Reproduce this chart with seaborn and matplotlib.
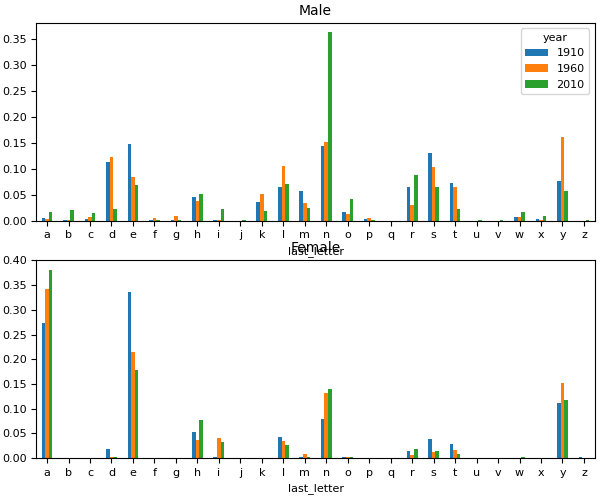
import pandas as pd
import seaborn as sns
from matplotlib import pyplot as plt

letters = list("abcdefghijklmnopqrstuvwxyz")
years = ["1910", "1960", "2010"]

male_1910 = [0.006, 0.002, 0.004, 0.113, 0.148, 0.002, 0.002, 0.046, 0.002, 0.0, 0.037, 0.065, 0.058,
             0.144, 0.017, 0.004, 0.0, 0.065, 0.131, 0.073, 0.0, 0.0, 0.008, 0.004, 0.077, 0.0]
male_1960 = [0.004, 0.002, 0.008, 0.123, 0.085, 0.006, 0.010, 0.038, 0.002, 0.0, 0.051, 0.106, 0.035,
             0.152, 0.013, 0.006, 0.0, 0.031, 0.104, 0.065, 0.0, 0.0, 0.008, 0.002, 0.162, 0.0]
male_2010 = [0.016, 0.021, 0.014, 0.023, 0.069, 0.002, 0.002, 0.052, 0.023, 0.002, 0.019, 0.071, 0.025,
             0.363, 0.042, 0.002, 0.0, 0.088, 0.065, 0.023, 0.002, 0.002, 0.017, 0.010, 0.058, 0.002]

female_1910 = [0.274, 0.0, 0.0, 0.019, 0.337, 0.0, 0.0, 0.053, 0.002, 0.0, 0.0, 0.043, 0.002,
               0.080, 0.002, 0.0, 0.0, 0.015, 0.039, 0.029, 0.0, 0.0, 0.0, 0.0, 0.112, 0.002]
female_1960 = [0.343, 0.0, 0.0, 0.002, 0.215, 0.0, 0.0, 0.037, 0.041, 0.0, 0.0, 0.035, 0.009,
               0.132, 0.002, 0.0, 0.0, 0.007, 0.013, 0.017, 0.0, 0.0, 0.0, 0.0, 0.152, 0.0]
female_2010 = [0.381, 0.0, 0.0, 0.002, 0.179, 0.0, 0.0, 0.078, 0.033, 0.0, 0.0, 0.027, 0.002,
               0.140, 0.002, 0.0, 0.0, 0.019, 0.015, 0.009, 0.0, 0.0, 0.002, 0.0, 0.118, 0.0]


def to_long(series_by_year):
    frames = []
    for year, vals in zip(years, series_by_year):
        frames.append(pd.DataFrame({"last_letter": letters, "year": year, "prop": vals}))
    return pd.concat(frames, ignore_index=True)


pdf_male = to_long([male_1910, male_1960, male_2010])
pdf_female = to_long([female_1910, female_1960, female_2010])
palette = ["#1f77b4", "#ff7f0e", "#2ca02c"]

f, axes = plt.subplots(2, 1, figsize=(6.05, 4.97), dpi=100)

ax = axes[0]
sns.barplot(data=pdf_male, x="last_letter", y="prop", hue="year", palette=palette,
            width=0.5, saturation=1, ax=ax)
ax.set_title("Male", fontsize=10)
ax.set_ylabel("")
ax.set_xlim(-0.5, 25.5)
ax.set_ylim(0, 0.381)
ax.legend(title="year", loc="upper right", fontsize=8, title_fontsize=8)

ax = axes[1]
sns.barplot(data=pdf_female, x="last_letter", y="prop", hue="year", palette=palette,
            width=0.5, saturation=1, legend=False, ax=ax)
ax.set_title("Female", fontsize=10)
ax.set_ylabel("")
ax.set_xlim(-0.5, 25.5)
ax.set_ylim(0, 0.400)

for ax in axes:
    ax.tick_params(labelsize=8)
    ax.xaxis.label.set_size(8)

f.subplots_adjust(left=0.06, right=0.983, top=0.954, bottom=0.078, hspace=0.2)
f.savefig("out.png", dpi=100)
